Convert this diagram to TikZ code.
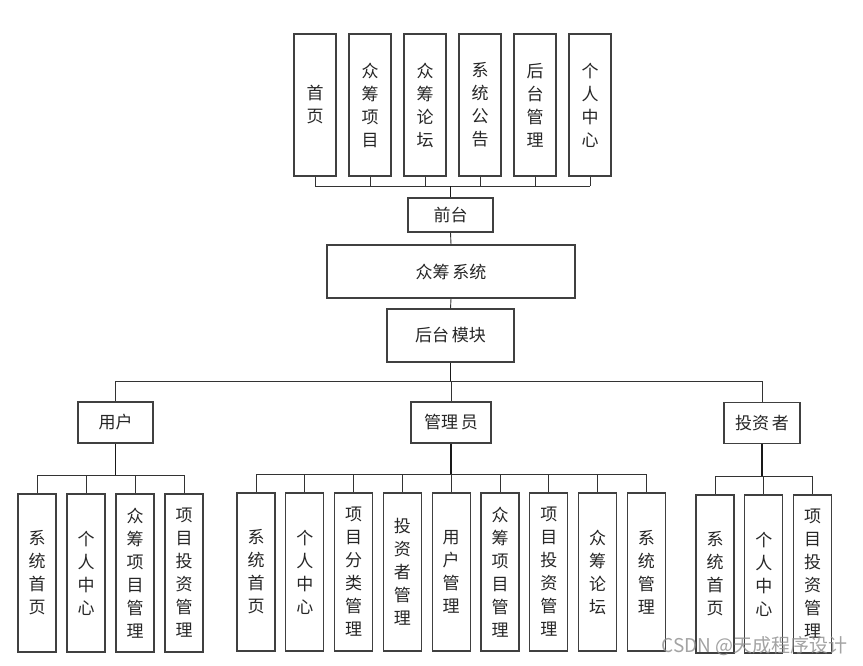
\documentclass[tikz,border=0pt]{standalone}
\usepackage{fontspec}
\newfontfamily\cjk{Noto Sans CJK SC}
\begin{document}
\begin{tikzpicture}[x=1pt,y=-1pt,
  box/.style={draw=black!75,line width=1.1pt,fill=white,inner sep=0pt,align=center,
    font=\cjk\fontsize{17}{23}\selectfont,text=black!85},
  vbox/.style={box,minimum width=#1,minimum height=158},
  tbox/.style={box,minimum width=42,minimum height=142},
  ln/.style={draw=black!80,line width=0.9pt},
  trunk/.style={draw=black!90,line width=1.7pt}]
\useasboundingbox (0,0) rectangle (863,665);
% top level
\foreach \t [count=\i from 0] in {首\\页,众\\筹\\项\\目,众\\筹\\论\\坛,系\\统\\公\\告,后\\台\\管\\理,个\\人\\中\\心}
  \node[tbox] (t\i) at (315+55*\i,105) {\t};
\node[box,minimum width=85,minimum height=34] (qt) at (450.5,215) {前台};
\node[box,minimum width=248,minimum height=53] (sys) at (451,271.5) {众筹\,系统};
\node[box,minimum width=127,minimum height=53] (ht) at (450.5,335.5) {后台\,模块};
\node[box,minimum width=75,minimum height=41] (u) at (115.5,422.5) {用户};
\node[box,minimum width=80,minimum height=41] (a) at (451,422.5) {管理\,员};
\node[box,minimum width=76,minimum height=41] (v) at (762,423) {投资\,者};
% user children
\foreach \t [count=\i from 0] in {系\\统\\首\\页,个\\人\\中\\心,众\\筹\\项\\目\\管\\理,项\\目\\投\\资\\管\\理}
  \node[vbox=38] (u\i) at (37+49*\i,573) {\t};
% admin children
\foreach \t [count=\i from 0] in {系\\统\\首\\页,个\\人\\中\\心,项\\目\\分\\类\\管\\理,投\\资\\者\\管\\理,用\\户\\管\\理,众\\筹\\项\\目\\管\\理,项\\目\\投\\资\\管\\理,众\\筹\\论\\坛,系\\统\\管\\理}
  \node[vbox=38] (a\i) at (256+48.8*\i,572) {\t};
% investor children
\foreach \t [count=\i from 0] in {系\\统\\首\\页,个\\人\\中\\心,项\\目\\投\\资\\管\\理}
  \node[vbox=38] (v\i) at (715+48.75*\i,574) {\t};
% buses
\coordinate (bT) at (450.5,186);
\coordinate (bM) at (450.5,381);
\coordinate (bU) at (115.5,475);
\coordinate (bA) at (451,474);
\coordinate (bV) at (762,476);
% top connectors
\foreach \i in {0,...,5} \draw[ln] (t\i.south) -- (t\i.south |- bT);
\draw[ln] (t0.south |- bT) -- (t5.south |- bT);
\draw[trunk] (bT) -- (qt.north);
\draw[ln] (qt.south) -- (sys.north);
\draw[ln] (sys.south) -- (ht.north);
\draw[trunk] (ht.south) -- (bM);
\draw[ln] (u.north |- bM) -- (v.north |- bM);
\draw[ln] (u.north |- bM) -- (u.north);
\draw[ln] (a.north |- bM) -- (a.north);
\draw[ln] (v.north |- bM) -- (v.north);
% user
\draw[trunk] (u.south) -- (bU);
\draw[ln] (u0.north |- bU) -- (u3.north |- bU);
\foreach \i in {0,...,3} \draw[ln] (u\i.north |- bU) -- (u\i.north);
% admin
\draw[trunk] (a.south) -- (bA);
\draw[ln] (a0.north |- bA) -- (a8.north |- bA);
\foreach \i in {0,...,8} \draw[ln] (a\i.north |- bA) -- (a\i.north);
% investor
\draw[trunk] (v.south) -- (bV);
\draw[ln] (v0.north |- bV) -- (v2.north |- bV);
\foreach \i in {0,...,2} \draw[ln] (v\i.north |- bV) -- (v\i.north);
% watermark
\node[font=\cjk\fontsize{19}{22}\selectfont,text=black!45,opacity=0.8,anchor=east,inner sep=0pt] (wm) at (848,646) {CSDN @天成程序设计};
\end{tikzpicture}
\end{document}
